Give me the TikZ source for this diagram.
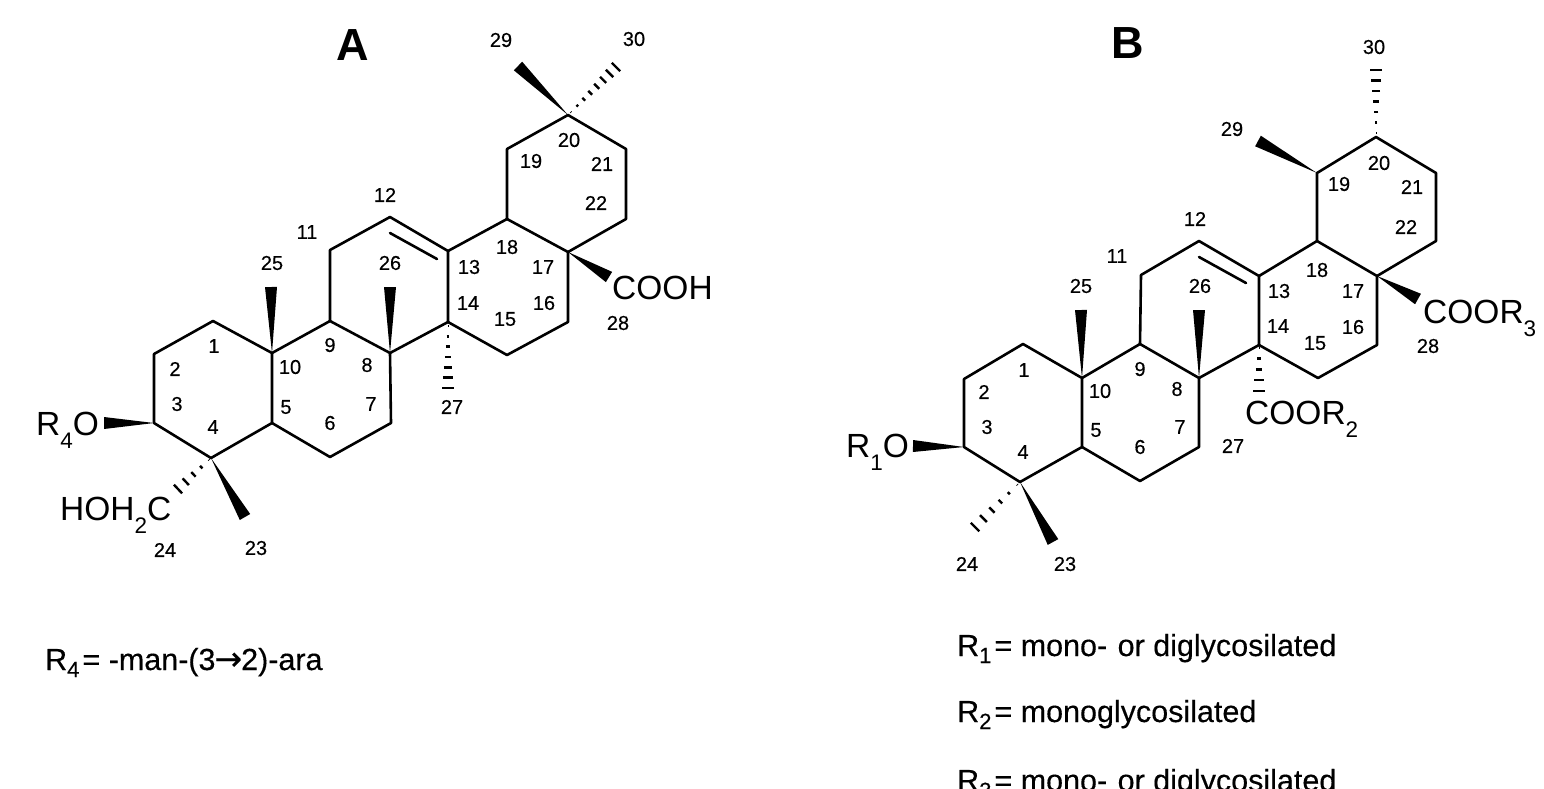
\documentclass[tikz,border=0pt]{standalone}
\usepackage{fontspec}
\setmainfont{Liberation Sans}
\newfontfamily\medfont[FakeBold=0.3]{Liberation Sans}
\newfontfamily\arrowfont[FakeBold=0.3]{DejaVu Sans}
\usetikzlibrary{calc}
\newcommand{\wedgebond}[3][6pt]{\fill[black] (#2) -- ($(#3)!#1!90:(#2)$) -- ($(#3)!#1!-90:(#2)$) -- cycle;}
% #1 = end half width, #2 from, #3 to, #4 number of dashes
\newcommand{\hashbond}[4][6]{\foreach \i in {1,...,#4}{\pgfmathsetmacro{\t}{0.06+0.94*(\i-1)/(#4-1)}\draw[hashline] ($(#2)!\t!(#3)!{\t*#1*1pt}!90:(#2)$) -- ($(#2)!\t!(#3)!{\t*#1*1pt}!-90:(#2)$);}}
\newcommand{\sbs}[1]{\raisebox{-13pt}{\fontsize{22.5}{23}\selectfont #1}}
\newcommand{\sbt}[1]{\raisebox{-7pt}{\fontsize{22}{22}\selectfont #1}\hspace{3pt}}
\tikzset{
  bond/.style={line width=2.6pt,line cap=round,line join=round,black},
  hashline/.style={line width=2.4pt,black},
  num/.style={font=\medfont\fontsize{20}{20}\selectfont,inner sep=0pt,text=black},
  big/.style={font=\fontsize{33.5}{34}\selectfont,inner sep=0pt,anchor=base west,text=black},
  note/.style={font=\medfont\fontsize{30.5}{31}\selectfont,inner sep=0pt,anchor=base west,text=black},
  title/.style={font=\fontsize{45}{45}\selectfont\bfseries,inner sep=0pt,anchor=base,text=black},
}
\begin{document}
\begin{tikzpicture}[x=1pt,y=-1pt]
\useasboundingbox (0,0) rectangle (1544,788);
% ---------- A ----------
\foreach \n/\x/\y in {1/213/321,2/154/354,3/154/423,4/211/458,5/272/423,6/330/457,7/391/423,8/390/353,9/330/321,10/272/353,
 11/330/250,12/390/217,13/448/251,14/448/322,15/507/355,16/568/322,17/568/252,18/507/219,19/507/149,20/568/115,21/626/149,22/626/219,
 w25/271/287,w26/390/287,h27/448/388,w23/245/517,h24/178/489,w29/518/66,h30/616/67,w28/609/277,wO/104/423}
  \coordinate (A\n) at (\x,\y);
\draw[bond] (A1)--(A2)--(A3)--(A4)--(A5)--(A10)--cycle;
\draw[bond] (A5)--(A6)--(A7)--(A8)--(A9)--(A10);
\draw[bond] (A9)--(A11)--(A12)--(A13)--(A14)--(A8);
\draw[bond] (A14)--(A15)--(A16)--(A17)--(A18)--(A13);
\draw[bond] (A18)--(A19)--(A20)--(A21)--(A22)--(A17);
\coordinate (Adb1) at (390,233); \coordinate (Adb2) at (437,259);
\draw[bond] (Adb1)--(Adb2);
\wedgebond{A10}{Aw25}\wedgebond{A8}{Aw26}\wedgebond{A4}{Aw23}\wedgebond{A20}{Aw29}\wedgebond{A17}{Aw28}\wedgebond{A3}{AwO}
\hashbond{A14}{Ah27}{7}\hashbond{A4}{Ah24}{5}\hashbond{A20}{Ah30}{8}
\foreach \n/\x/\y in {1/214/346,2/175/369,3/177/404,4/213/427,5/286/407,6/330/423,7/371/404,8/367/365,9/330/345,10/290/367,
 11/307/232,12/385/195,13/469/267,14/468/303,15/505/319,16/544/303,17/543/267,18/507/247,19/531/161,20/569/140,21/602/164,22/596/203,
 23/256/548,24/165/550,25/272/263,26/390/263,27/452/407,28/618/323,29/501/40,30/634/39}
  \node[num] (an\n) at (\x,\y) {\n};
\node[title] (tA) at (353,60) {A};
\node[big] (aR) at (36,435) {R\sbs{4}O};
\node[big] (aH) at (60,520) {HOH\sbs{2}C};
\node[big] (aC) at (612,299) {COOH};
\node[note] (aN) at (45,670) {R\sbt{4}= -man-(3{\arrowfont\fontsize{33}{33}\selectfont\kern-1pt →\kern-1pt}2)-ara};
% ---------- B ----------
\foreach \n/\x/\y in {1/1023/344,2/964/379,3/964/447,4/1020/482,5/1082/447,6/1140/481,7/1199/447,8/1199/378,9/1140/344,10/1082/378,
 11/1141/275,12/1199/241,13/1259/276,14/1259/345,15/1318/378,16/1377/345,17/1377/276,18/1317/241,19/1317/173,20/1376/137,21/1436/173,22/1436/241,
 w25/1081/310,w26/1199/310,h27/1259/391,w23/1053/542,h24/975/527,w29/1258/141,h30/1376/70,w28/1418/299,wO/913/446}
  \coordinate (B\n) at (\x,\y);
\draw[bond] (B1)--(B2)--(B3)--(B4)--(B5)--(B10)--cycle;
\draw[bond] (B5)--(B6)--(B7)--(B8)--(B9)--(B10);
\draw[bond] (B9)--(B11)--(B12)--(B13)--(B14)--(B8);
\draw[bond] (B14)--(B15)--(B16)--(B17)--(B18)--(B13);
\draw[bond] (B18)--(B19)--(B20)--(B21)--(B22)--(B17);
\coordinate (Bdb1) at (1199,257); \coordinate (Bdb2) at (1246,283);
\draw[bond] (Bdb1)--(Bdb2);
\wedgebond{B10}{Bw25}\wedgebond{B8}{Bw26}\wedgebond{B4}{Bw23}\wedgebond{B19}{Bw29}\wedgebond{B17}{Bw28}\wedgebond{B3}{BwO}
\hashbond{B14}{Bh27}{5}\hashbond{B4}{Bh24}{6}\hashbond{B20}{Bh30}{7}
\foreach \n/\x/\y in {1/1024/370,2/984/392,3/987/427,4/1023/452,5/1096/430,6/1140/447,7/1180/427,8/1177/389,9/1140/369,10/1100/391,
 11/1117/256,12/1195/219,13/1279/291,14/1278/326,15/1315/343,16/1353/327,17/1353/291,18/1317/270,19/1339/184,20/1379/163,21/1412/187,22/1406/227,
 23/1065/564,24/967/564,25/1081/286,26/1200/286,27/1233/446,28/1428/346,29/1232/129,30/1374/47}
  \node[num] (bn\n) at (\x,\y) {\n};
\node[title] (tB) at (1128,58) {B};
\node[big] (bR) at (846,457) {R\sbs{1}O};
\node[big] (bC2) at (1245,424) {COOR\sbs{2}};
\node[big] (bC3) at (1423,323) {COOR\sbs{3}};
\node[note] (bN1) at (957,656) {R\sbt{1}= mono-\hspace{2pt} or diglycosilated};
\node[note] (bN2) at (957,722) {R\sbt{2}= monoglycosilated};
\node[note] (bN3) at (957,791) {R\sbt{3}= mono-\hspace{2pt} or diglycosilated};
\end{tikzpicture}
\end{document}
